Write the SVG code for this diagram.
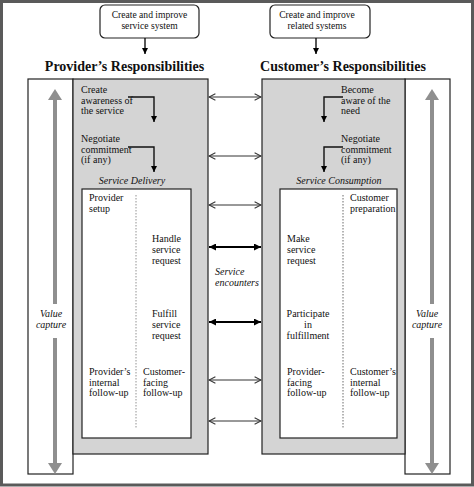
<svg xmlns="http://www.w3.org/2000/svg" width="474" height="487" viewBox="0 0 474 487">
<defs>
<style>
.t{font-family:"Liberation Serif","Times New Roman",serif;font-size:10px;fill:#111}
.s{font-size:9.6px}
.i{font-style:italic}
.c{text-anchor:middle}
.h{font-family:"Liberation Serif","Times New Roman",serif;font-size:14px;font-weight:bold;fill:#111;text-anchor:middle}
.box{fill:#fff;stroke:#222;stroke-width:1.2}
.gray{fill:#d4d4d4;stroke:#222;stroke-width:1.2}
.ln{fill:none;stroke:#111;stroke-width:1.4}
.thin{fill:none;stroke:#333;stroke-width:1}
.thick{fill:none;stroke:#000;stroke-width:1.8}
.dot{stroke:#777;stroke-width:0.8;stroke-dasharray:1.5 1.5}
.va{fill:none;stroke:#8f8f8f;stroke-width:4}
</style>
<marker id="ah" viewBox="0 0 10 10" refX="10" refY="5" markerWidth="6" markerHeight="8" markerUnits="userSpaceOnUse" orient="auto"><path d="M0,0 L10,5 L0,10 Z" fill="#000"/></marker>
<marker id="op" viewBox="0 0 10 10" refX="9" refY="5" markerWidth="8" markerHeight="8" markerUnits="userSpaceOnUse" orient="auto-start-reverse"><path d="M1,1 L9,5 L1,9" fill="none" stroke="#333" stroke-width="1.3"/></marker>
<marker id="fl" viewBox="0 0 10 10" refX="10" refY="5" markerWidth="8" markerHeight="7" markerUnits="userSpaceOnUse" orient="auto-start-reverse"><path d="M0,0 L10,5 L0,10 Z" fill="#000"/></marker>
</defs>
<rect x="1.5" y="1.5" width="471" height="483.5" fill="#fff" stroke="#5a5a5a" stroke-width="3"/>

<g id="top-left">
<rect x="100" y="5" width="99" height="33" rx="5" class="box"/>
<text class="t s c" x="149.5" y="18">Create and improve</text>
<text class="t s c" x="149.5" y="28.5">service system</text>
</g>
<g id="top-right">
<rect x="270" y="5" width="100" height="33" rx="5" class="box"/>
<text class="t s c" x="317" y="18">Create and improve</text>
<text class="t s c" x="317" y="28.5">related systems</text>
</g>

<text class="h" x="124.5" y="71">Provider’s Responsibilities</text>
<text class="h" x="343" y="71">Customer’s Responsibilities</text>

<g id="left-value">
<rect x="28" y="79" width="45" height="395" class="box"/>
<line x1="55" y1="100" x2="55" y2="304" class="va"/>
<path d="M48,100 L55,89 L62,100 Z" fill="#8f8f8f"/>
<line x1="55" y1="338" x2="55" y2="463" class="va"/>
<path d="M48,463 L55,474 L62,463 Z" fill="#8f8f8f"/>
<text class="t i c" x="51" y="317">Value</text>
<text class="t i c" x="51" y="327.5">capture</text>
</g>

<g id="right-value">
<rect x="405" y="79" width="45" height="395" class="box"/>
<line x1="432" y1="100" x2="432" y2="304" class="va"/>
<path d="M425,100 L432,89 L439,100 Z" fill="#8f8f8f"/>
<line x1="432" y1="338" x2="432" y2="463" class="va"/>
<path d="M425,463 L432,474 L439,463 Z" fill="#8f8f8f"/>
<text class="t i c" x="427" y="317">Value</text>
<text class="t i c" x="427" y="327.5">capture</text>
</g>

<g id="provider">
<rect x="73" y="79" width="135" height="375" class="gray"/>
<text class="t" x="81" y="93">Create</text>
<text class="t" x="81" y="103.5">awareness of</text>
<text class="t" x="81" y="114">the service</text>
<text class="t" x="81" y="142">Negotiate</text>
<text class="t" x="81" y="152.5">commitment</text>
<text class="t" x="81" y="163">(if any)</text>
<text class="t i c" x="132" y="184">Service Delivery</text>
</g>
<g id="service-delivery">
<rect x="82" y="189" width="109" height="249" class="box"/>
<line x1="136" y1="195" x2="136" y2="429" class="dot"/>
<text class="t" x="89" y="201">Provider</text>
<text class="t" x="89" y="211.5">setup</text>
<text class="t" x="152" y="242">Handle</text>
<text class="t" x="152" y="253">service</text>
<text class="t" x="152" y="264">request</text>
<text class="t" x="152" y="317">Fulfill</text>
<text class="t" x="152" y="328">service</text>
<text class="t" x="152" y="339">request</text>
<text class="t" x="89" y="375">Provider’s</text>
<text class="t" x="89" y="385.5">internal</text>
<text class="t" x="89" y="396">follow-up</text>
<text class="t" x="143" y="375">Customer-</text>
<text class="t" x="143" y="385.5">facing</text>
<text class="t" x="143" y="396">follow-up</text>
</g>

<g id="customer">
<rect x="262" y="79" width="143" height="375" class="gray"/>
<text class="t" x="341" y="93">Become</text>
<text class="t" x="341" y="103.5">aware of the</text>
<text class="t" x="341" y="114">need</text>
<text class="t" x="341" y="142">Negotiate</text>
<text class="t" x="341" y="152.5">commitment</text>
<text class="t" x="341" y="163">(if any)</text>
<text class="t i c" x="339" y="184">Service Consumption</text>
</g>
<g id="service-consumption">
<rect x="280" y="189" width="117" height="249" class="box"/>
<line x1="343" y1="195" x2="343" y2="429" class="dot" style="stroke:#444"/>
<text class="t" x="350" y="201">Customer</text>
<text class="t" x="350" y="211.5">preparation</text>
<text class="t" x="287" y="242">Make</text>
<text class="t" x="287" y="253">service</text>
<text class="t" x="287" y="264">request</text>
<text class="t c" x="308" y="317">Participate</text>
<text class="t c" x="308" y="328">in</text>
<text class="t c" x="308" y="339">fulfillment</text>
<text class="t" x="287" y="375">Provider-</text>
<text class="t" x="287" y="385.5">facing</text>
<text class="t" x="287" y="396">follow-up</text>
<text class="t" x="350" y="375">Customer’s</text>
<text class="t" x="350" y="385.5">internal</text>
<text class="t" x="350" y="396">follow-up</text>
</g>

<g id="encounters-label">
<text class="t i" x="215" y="275">Service</text>
<text class="t i" x="215" y="286">encounters</text>
</g>

<g id="connectors">
<line x1="145" y1="38" x2="145" y2="54" class="ln" marker-end="url(#ah)"/>
<line x1="316" y1="38" x2="316" y2="54" class="ln" marker-end="url(#ah)"/>
<path d="M128,97 H154 V122" class="ln" marker-end="url(#ah)"/>
<path d="M128,147 H154 V172" class="ln" marker-end="url(#ah)"/>
<path d="M343,97 H324 V122" class="ln" marker-end="url(#ah)"/>
<path d="M343,147 H324 V172" class="ln" marker-end="url(#ah)"/>
<line x1="209" y1="97" x2="261" y2="97" class="thin" marker-start="url(#op)" marker-end="url(#op)"/>
<line x1="209" y1="156" x2="261" y2="156" class="thin" marker-start="url(#op)" marker-end="url(#op)"/>
<line x1="209" y1="205" x2="261" y2="205" class="thin" marker-start="url(#op)" marker-end="url(#op)"/>
<line x1="209" y1="247" x2="261" y2="247" class="thick" marker-start="url(#fl)" marker-end="url(#fl)"/>
<line x1="209" y1="322" x2="261" y2="322" class="thick" marker-start="url(#fl)" marker-end="url(#fl)"/>
<line x1="209" y1="380" x2="261" y2="380" class="thin" marker-start="url(#op)" marker-end="url(#op)"/>
<line x1="209" y1="421" x2="261" y2="421" class="thin" marker-start="url(#op)" marker-end="url(#op)"/>
</g>
</svg>
